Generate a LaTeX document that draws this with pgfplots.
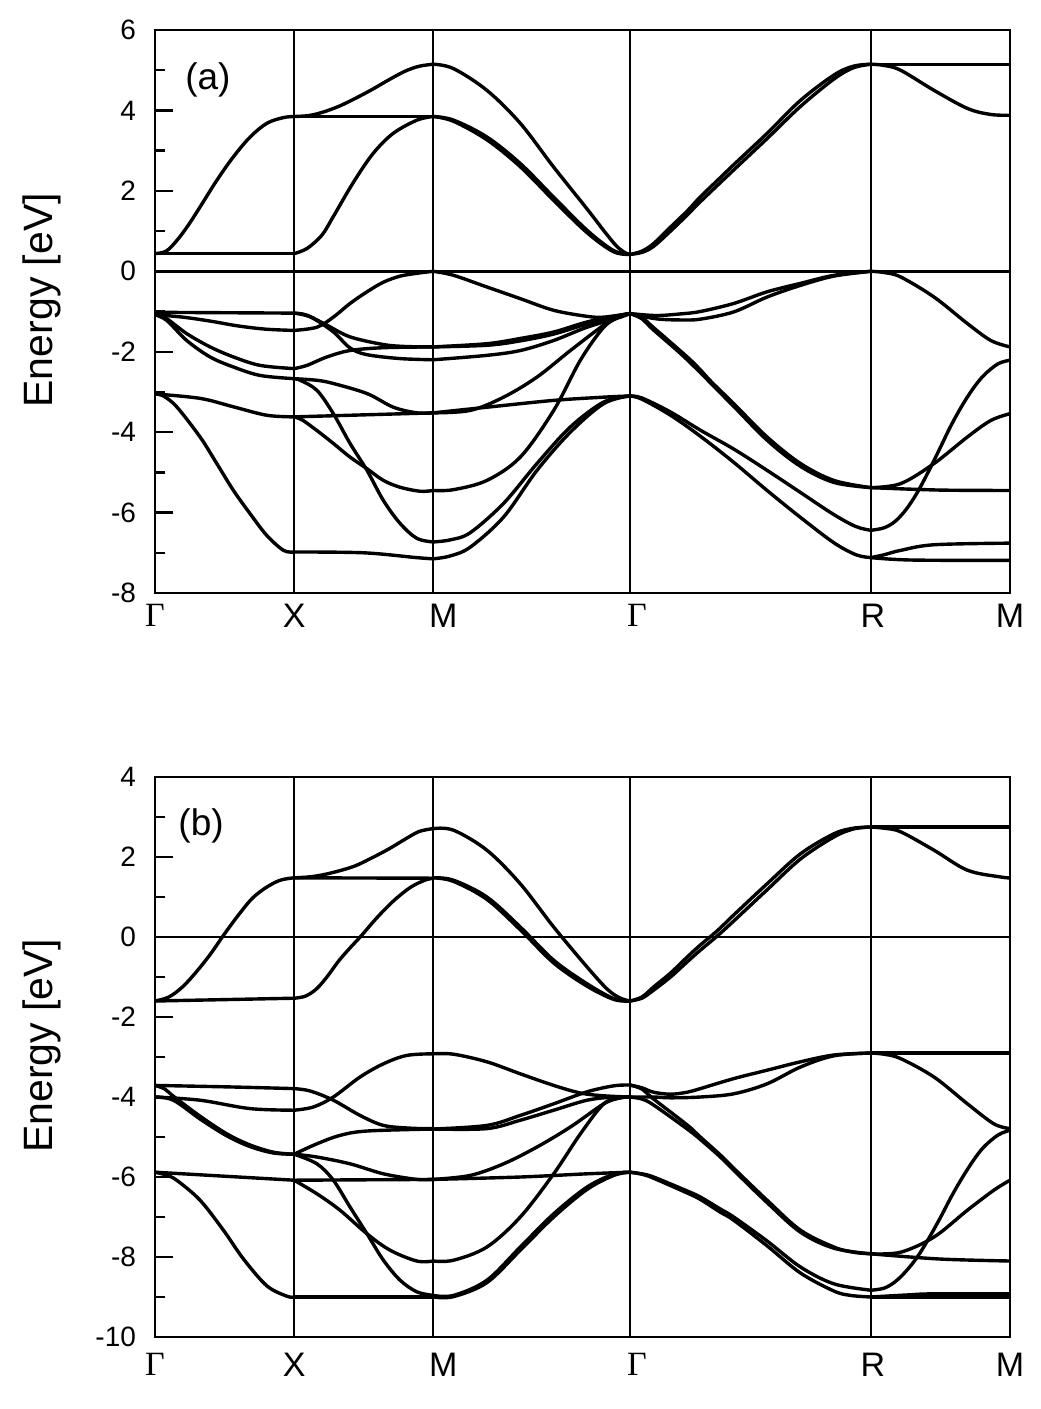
\documentclass[border=0pt]{standalone}
\usepackage{fontspec}
\setmainfont{Liberation Sans}
\newfontfamily\serifG{Liberation Serif}
\usepackage{pgfplots}
\pgfplotsset{compat=1.18}

\newcommand{\G}{{\serifG Γ}}

\pgfplotsset{
  bandaxis/.style={
    scale only axis, width=427.5pt,
    xmin=0, xmax=3.0731,
    xtick={0,0.5,1,1.7071,2.5731,3.0731},
    xticklabels={\G,X\hspace{5pt},\hspace{10pt}M,\hspace{7pt}\G,\hspace{2pt}R,M\hspace{3pt}},
    xmajorgrids, grid style={black, line width=1pt},
    xtick style={draw=none},
    ytick pos=left, tick align=inside,
    major tick length=9pt, minor tick length=5pt,
    minor y tick num=1,
    ytick style={black, line width=1.2pt},
    axis line style={line width=1.3pt},
    tick label style={font=\fontsize{14}{16}\selectfont},
    xticklabel style={font=\fontsize{17}{19}\selectfont},
    yticklabel style={xshift=-6pt},
    /pgf/number format/assume math mode=true,
    ylabel={Energy [eV]},
    ylabel style={font=\fontsize{20.5}{23}\selectfont, at={(axis description cs:-0.132,0.52)}, anchor=center},
  },
  band/.style={black, line width=1.7pt, smooth, tension=0.55, mark=none},
  zero/.style={black, mark=none},
}

\begin{document}
\begin{tikzpicture}
\path[use as bounding box] (0,0) rectangle (520pt,-704.5pt);

% ---------------- panel (a) ----------------
\begin{axis}[bandaxis, at={(77.5pt,-296.5pt)}, anchor=south west, height=281.5pt,
  ymin=-8, ymax=6, ytick={-8,-6,...,6}, xticklabel style={yshift=-2pt}]
\addplot[zero, line width=1.4pt] coordinates {(0,0) (3.0731,0)};
% conduction bands
\addplot[band] coordinates {(0,0.44) (0.5,0.44)};
\addplot[band] coordinates {(0,0.44) (0.04,0.5) (0.079,0.77) (0.12,1.15) (0.162,1.6) (0.222,2.26) (0.281,2.84) (0.342,3.34) (0.402,3.68) (0.46,3.82) (0.5,3.85)};
\addplot[band] coordinates {(0.5,3.85) (1,3.85)};
\addplot[band] coordinates {(0.5,3.85) (0.55,3.87) (0.6,3.95) (0.66,4.1) (0.72,4.3) (0.78,4.52) (0.84,4.76) (0.9,4.98) (0.95,5.1) (1,5.15)};
\addplot[band] coordinates {(0.5,0.44) (0.547,0.57) (0.6,0.9) (0.64,1.35) (0.712,2.2) (0.784,2.93) (0.856,3.43) (0.942,3.76) (1,3.85)};
\addplot[band] coordinates {(1,5.15) (1.073,5.04) (1.193,4.5) (1.313,3.68) (1.432,2.6) (1.553,1.55) (1.62,0.95) (1.66,0.62) (1.69,0.46) (1.7071,0.42)};
\addplot[band] coordinates {(1,3.85) (1.073,3.76) (1.193,3.34) (1.313,2.68) (1.432,1.85) (1.553,1.02) (1.647,0.52) (1.7071,0.42)};
\addplot[band] coordinates {(1,3.85) (1.073,3.73) (1.193,3.27) (1.313,2.6) (1.432,1.77) (1.553,0.96) (1.647,0.49) (1.7071,0.42)};
\addplot[band] coordinates {(1.7071,0.42) (1.75,0.5) (1.792,0.69) (1.853,1.1) (1.913,1.5) (1.96,1.85) (2.032,2.33) (2.08,2.65) (2.2,3.43) (2.32,4.25) (2.44,4.88) (2.51,5.1) (2.5731,5.15)};
\addplot[band] coordinates {(1.7071,0.42) (1.75,0.47) (1.792,0.62) (1.853,1.0) (1.913,1.4) (1.96,1.73) (2.08,2.52) (2.2,3.3) (2.32,4.1) (2.44,4.78) (2.51,5.06) (2.5731,5.15)};
\addplot[band] coordinates {(2.5731,5.15) (3.0731,5.15)};
\addplot[band] coordinates {(2.5731,5.15) (2.62,5.12) (2.68,5.0) (2.8,4.5) (2.92,4.05) (3.004,3.9) (3.0731,3.88)};
% valence bands, Gamma-X
\addplot[band] coordinates {(0,-1.02) (0.5,-1.04)};
\addplot[band] coordinates {(0,-1.08) (0.1,-1.14) (0.2,-1.24) (0.3,-1.36) (0.4,-1.44) (0.5,-1.47)};
\addplot[band] coordinates {(0,-1.08) (0.042,-1.18) (0.114,-1.55) (0.198,-1.88) (0.282,-2.13) (0.378,-2.34) (0.5,-2.42)};
\addplot[band] coordinates {(0,-1.08) (0.042,-1.22) (0.114,-1.72) (0.198,-2.13) (0.282,-2.38) (0.378,-2.59) (0.5,-2.67)};
\addplot[band] coordinates {(0,-3.05) (0.162,-3.16) (0.282,-3.37) (0.402,-3.58) (0.5,-3.62)};
\addplot[band] coordinates {(0,-3.05) (0.03,-3.1) (0.078,-3.37) (0.162,-4.12) (0.222,-4.78) (0.282,-5.45) (0.342,-6.03) (0.402,-6.57) (0.462,-6.94) (0.5,-6.98)};
% X-M
\addplot[band] coordinates {(0.5,-1.47) (0.582,-1.39) (0.641,-1.14) (0.701,-0.8) (0.762,-0.51) (0.821,-0.27) (0.881,-0.12) (0.941,-0.05) (1,0)};
\addplot[band] coordinates {(0.5,-1.04) (0.546,-1.09) (0.618,-1.34) (0.701,-1.63) (0.82,-1.82) (0.9,-1.87) (1,-1.88)};
\addplot[band] coordinates {(0.5,-1.04) (0.56,-1.14) (0.64,-1.5) (0.7,-1.9) (0.76,-2.07) (0.88,-2.17) (1,-2.2)};
\addplot[band] coordinates {(0.5,-2.42) (0.546,-2.34) (0.618,-2.13) (0.701,-1.97) (0.82,-1.9) (1,-1.88)};
\addplot[band] coordinates {(0.5,-2.67) (0.582,-2.71) (0.641,-2.79) (0.762,-3.04) (0.857,-3.38) (0.941,-3.52) (1,-3.52)};
\addplot[band] coordinates {(0.5,-2.67) (0.522,-2.71) (0.582,-2.96) (0.641,-3.54) (0.701,-4.28) (0.762,-4.95) (0.821,-5.7) (0.881,-6.27) (0.941,-6.64) (1,-6.73)};
\addplot[band] coordinates {(0.5,-3.62) (0.75,-3.57) (1,-3.52)};
\addplot[band] coordinates {(0.5,-3.62) (0.53,-3.7) (0.582,-3.96) (0.641,-4.28) (0.701,-4.62) (0.762,-4.91) (0.821,-5.2) (0.881,-5.37) (0.953,-5.47) (1,-5.45)};
\addplot[band] coordinates {(0.5,-6.98) (0.75,-7.0) (0.94,-7.12) (1,-7.15)};
% M-Gamma
\addplot[band] coordinates {(1,0) (1.073,-0.1) (1.193,-0.39) (1.313,-0.68) (1.433,-0.97) (1.553,-1.12) (1.613,-1.14) (1.7071,-1.05)};
\addplot[band] coordinates {(1,-1.88) (1.193,-1.8) (1.313,-1.67) (1.433,-1.51) (1.553,-1.26) (1.673,-1.09) (1.7071,-1.05)};
\addplot[band] coordinates {(1,-1.88) (1.193,-1.84) (1.313,-1.73) (1.433,-1.56) (1.553,-1.31) (1.673,-1.11) (1.7071,-1.05)};
\addplot[band] coordinates {(1,-2.2) (1.193,-2.09) (1.313,-1.97) (1.433,-1.72) (1.553,-1.39) (1.673,-1.14) (1.7071,-1.05)};
\addplot[band] coordinates {(1,-3.52) (1.133,-3.46) (1.253,-3.13) (1.373,-2.63) (1.493,-1.97) (1.613,-1.34) (1.673,-1.12) (1.7071,-1.05)};
\addplot[band] coordinates {(1,-3.52) (1.193,-3.38) (1.433,-3.21) (1.613,-3.13) (1.7071,-3.1)};
\addplot[band] coordinates {(1,-5.45) (1.073,-5.43) (1.193,-5.2) (1.313,-4.62) (1.433,-3.46) (1.529,-2.21) (1.613,-1.39) (1.673,-1.12) (1.7071,-1.05)};
\addplot[band] coordinates {(1,-6.73) (1.06,-6.68) (1.133,-6.5) (1.253,-5.77) (1.373,-4.78) (1.493,-3.87) (1.613,-3.25) (1.7071,-3.1)};
\addplot[band] coordinates {(1,-7.15) (1.06,-7.08) (1.133,-6.86) (1.253,-6.11) (1.373,-4.95) (1.493,-4.0) (1.613,-3.29) (1.7071,-3.1)};
% Gamma-R
\addplot[band] coordinates {(1.7071,-1.05) (1.8,-1.1) (1.888,-1.06) (1.96,-1.0) (2.08,-0.8) (2.2,-0.51) (2.32,-0.3) (2.44,-0.1) (2.5731,0)};
\addplot[band] coordinates {(1.7071,-1.05) (1.8,-1.18) (1.888,-1.21) (1.96,-1.19) (2.08,-1.01) (2.2,-0.64) (2.32,-0.35) (2.44,-0.12) (2.5731,0)};
\addplot[band] coordinates {(1.7071,-1.05) (1.75,-1.15) (1.792,-1.4) (1.913,-2.13) (1.96,-2.45) (2.0,-2.75) (2.08,-3.29) (2.2,-4.12) (2.32,-4.78) (2.44,-5.2) (2.5731,-5.38)};
\addplot[band] coordinates {(1.7071,-1.05) (1.75,-1.18) (1.792,-1.46) (1.913,-2.2) (2.08,-3.36) (2.2,-4.2) (2.32,-4.85) (2.44,-5.25) (2.5731,-5.38)};
\addplot[band] coordinates {(1.7071,-3.1) (1.75,-3.15) (1.853,-3.5) (1.96,-3.95) (2.08,-4.42) (2.2,-4.95) (2.32,-5.5) (2.44,-6.05) (2.52,-6.35) (2.5731,-6.44)};
\addplot[band] coordinates {(1.7071,-3.1) (1.75,-3.18) (1.853,-3.58) (1.96,-4.1) (2.08,-4.75) (2.2,-5.45) (2.32,-6.12) (2.44,-6.75) (2.52,-7.05) (2.5731,-7.12)};
% R-M
\addplot[band] coordinates {(2.5731,0) (2.62,-0.03) (2.68,-0.14) (2.8,-0.64) (2.92,-1.3) (3.004,-1.72) (3.0731,-1.88)};
\addplot[band] coordinates {(2.5731,-6.44) (2.62,-6.38) (2.66,-6.22) (2.7,-5.92) (2.74,-5.5) (2.78,-4.98) (2.82,-4.42) (2.86,-3.85) (2.9,-3.35) (2.94,-2.92) (2.98,-2.58) (3.03,-2.3) (3.0731,-2.21)};
\addplot[band] coordinates {(2.5731,-5.38) (2.68,-5.28) (2.8,-4.78) (2.92,-4.12) (3.004,-3.71) (3.0731,-3.54)};
\addplot[band] coordinates {(2.5731,-5.38) (2.82,-5.44) (3.0731,-5.45)};
\addplot[band] coordinates {(2.5731,-7.12) (2.62,-7.05) (2.68,-6.94) (2.8,-6.8) (3.0731,-6.76)};
\addplot[band] coordinates {(2.5731,-7.12) (2.72,-7.18) (3.0731,-7.19)};
\node[anchor=north west, inner sep=0pt, font=\fontsize{18.5}{20}\selectfont] at (rel axis cs:0.035,0.943) {(a)};
\end{axis}

% ---------------- panel (b) ----------------
\begin{axis}[bandaxis, at={(77.5pt,-668.5pt)}, anchor=south west, height=280pt,
  ymin=-10, ymax=4, ytick={-10,-8,...,4}, xticklabel style={yshift=-4.5pt}]
\addplot[zero, line width=1pt] coordinates {(0,0) (3.0731,0)};
% conduction bands
\addplot[band] coordinates {(0,-1.6) (0.5,-1.53)};
\addplot[band] coordinates {(0,-1.6) (0.05,-1.5) (0.1,-1.24) (0.15,-0.86) (0.2,-0.42) (0.25,0.08) (0.3,0.55) (0.35,0.97) (0.4,1.24) (0.45,1.42) (0.5,1.48)};
\addplot[band] coordinates {(0.5,1.48) (1,1.47)};
\addplot[band] coordinates {(0.5,1.48) (0.55,1.5) (0.6,1.55) (0.66,1.65) (0.72,1.78) (0.78,1.98) (0.84,2.2) (0.9,2.45) (0.95,2.64) (1,2.71)};
\addplot[band] coordinates {(0.5,-1.53) (0.54,-1.48) (0.58,-1.3) (0.62,-0.98) (0.66,-0.6) (0.7,-0.28) (0.74,0.02) (0.8,0.5) (0.86,0.92) (0.92,1.25) (0.97,1.42) (1,1.47)};
\addplot[band] coordinates {(1,2.71) (1.073,2.67) (1.193,2.17) (1.313,1.33) (1.433,0.25) (1.553,-0.75) (1.625,-1.3) (1.67,-1.52) (1.7071,-1.6)};
\addplot[band] coordinates {(1,1.48) (1.073,1.42) (1.193,1.0) (1.313,0.25) (1.433,-0.58) (1.553,-1.17) (1.649,-1.54) (1.7071,-1.6)};
\addplot[band] coordinates {(1,1.48) (1.073,1.39) (1.193,0.94) (1.313,0.18) (1.433,-0.65) (1.553,-1.23) (1.649,-1.56) (1.7071,-1.6)};
\addplot[band] coordinates {(1.7071,-1.6) (1.75,-1.5) (1.792,-1.25) (1.853,-0.9) (1.913,-0.5) (1.96,-0.2) (2.02,0.15) (2.08,0.55) (2.2,1.33) (2.32,2.08) (2.44,2.58) (2.51,2.72) (2.5731,2.75)};
\addplot[band] coordinates {(1.7071,-1.6) (1.75,-1.53) (1.792,-1.33) (1.853,-1.0) (1.913,-0.62) (1.96,-0.33) (2.02,0.02) (2.08,0.4) (2.2,1.18) (2.32,1.95) (2.44,2.5) (2.51,2.7) (2.5731,2.75)};
\addplot[band] coordinates {(2.5731,2.75) (3.0731,2.75)};
\addplot[band] coordinates {(2.5731,2.75) (2.62,2.72) (2.68,2.63) (2.8,2.17) (2.92,1.67) (3.04,1.5) (3.0731,1.48)};
% valence bands, Gamma-X
\addplot[band] coordinates {(0,-3.71) (0.282,-3.75) (0.5,-3.79)};
\addplot[band] coordinates {(0,-4.0) (0.162,-4.08) (0.342,-4.29) (0.5,-4.33)};
\addplot[band] coordinates {(0,-3.71) (0.035,-3.8) (0.066,-3.98) (0.162,-4.48) (0.258,-4.92) (0.342,-5.2) (0.426,-5.38) (0.5,-5.43)};
\addplot[band] coordinates {(0,-4.0) (0.066,-4.08) (0.162,-4.55) (0.258,-4.97) (0.342,-5.24) (0.426,-5.4) (0.5,-5.43)};
\addplot[band] coordinates {(0,-5.88) (0.25,-5.98) (0.5,-6.08)};
\addplot[band] coordinates {(0,-5.88) (0.04,-5.95) (0.078,-6.08) (0.162,-6.58) (0.246,-7.33) (0.318,-8.05) (0.402,-8.72) (0.474,-8.98) (0.5,-9.0)};
% X-M
\addplot[band] coordinates {(0.5,-4.33) (0.569,-4.25) (0.641,-4.0) (0.737,-3.5) (0.821,-3.17) (0.905,-2.96) (1,-2.92)};
\addplot[band] coordinates {(0.5,-3.79) (0.558,-3.85) (0.641,-4.08) (0.737,-4.46) (0.821,-4.71) (0.92,-4.78) (1,-4.79)};
\addplot[band] coordinates {(0.5,-5.43) (0.582,-5.17) (0.665,-4.96) (0.762,-4.85) (1,-4.8)};
\addplot[band] coordinates {(0.5,-5.43) (0.582,-5.5) (0.701,-5.67) (0.821,-5.92) (0.941,-6.06) (1,-6.06)};
\addplot[band] coordinates {(0.5,-5.43) (0.582,-5.67) (0.641,-6.08) (0.701,-6.75) (0.762,-7.42) (0.821,-8.08) (0.881,-8.58) (0.941,-8.87) (1,-8.96)};
\addplot[band] coordinates {(0.5,-6.08) (1,-6.06)};
\addplot[band] coordinates {(0.5,-6.08) (0.582,-6.42) (0.665,-6.83) (0.762,-7.42) (0.845,-7.83) (0.941,-8.1) (1,-8.1)};
\addplot[band] coordinates {(0.5,-9.0) (1,-9.0)};
% M-Gamma
\addplot[band] coordinates {(1,-2.92) (1.073,-2.93) (1.193,-3.12) (1.313,-3.42) (1.433,-3.71) (1.529,-3.9) (1.613,-3.97) (1.7071,-4.0)};
\addplot[band] coordinates {(1,-4.8) (1.193,-4.71) (1.313,-4.46) (1.433,-4.17) (1.553,-3.87) (1.649,-3.72) (1.7071,-3.7)};
\addplot[band] coordinates {(1,-4.8) (1.193,-4.79) (1.313,-4.58) (1.433,-4.33) (1.553,-4.08) (1.649,-4.0) (1.7071,-4.0)};
\addplot[band] coordinates {(1,-6.06) (1.133,-5.96) (1.253,-5.67) (1.373,-5.25) (1.493,-4.75) (1.613,-4.17) (1.673,-4.02) (1.7071,-4.0)};
\addplot[band] coordinates {(1,-6.06) (1.313,-6.0) (1.553,-5.92) (1.7071,-5.88)};
\addplot[band] coordinates {(1,-8.1) (1.073,-8.08) (1.193,-7.75) (1.313,-7.0) (1.433,-5.92) (1.529,-4.92) (1.613,-4.17) (1.673,-4.02) (1.7071,-4.0)};
\addplot[band] coordinates {(1,-8.96) (1.073,-8.96) (1.193,-8.58) (1.313,-7.75) (1.433,-6.92) (1.553,-6.25) (1.649,-5.93) (1.7071,-5.88)};
\addplot[band] coordinates {(1,-9.0) (1.073,-8.99) (1.193,-8.64) (1.313,-7.83) (1.433,-7.0) (1.553,-6.31) (1.649,-5.96) (1.7071,-5.88)};
% Gamma-R
\addplot[band] coordinates {(1.7071,-3.7) (1.75,-3.77) (1.792,-3.88) (1.853,-3.93) (1.913,-3.88) (1.96,-3.79) (2.08,-3.54) (2.2,-3.33) (2.32,-3.12) (2.44,-2.95) (2.5731,-2.9)};
\addplot[band] coordinates {(1.7071,-4.0) (1.792,-4.0) (1.853,-4.02) (1.96,-4.0) (2.08,-3.92) (2.2,-3.67) (2.32,-3.25) (2.44,-2.97) (2.5731,-2.9)};
\addplot[band] coordinates {(1.7071,-3.7) (1.75,-3.8) (1.792,-4.05) (1.913,-4.7) (1.96,-5.0) (2.032,-5.45) (2.08,-5.78) (2.2,-6.58) (2.32,-7.33) (2.44,-7.75) (2.51,-7.88) (2.5731,-7.92)};
\addplot[band] coordinates {(1.7071,-4.0) (1.75,-4.05) (1.792,-4.2) (1.913,-4.8) (1.96,-5.06) (2.032,-5.5) (2.08,-5.83) (2.2,-6.64) (2.32,-7.38) (2.44,-7.78) (2.5731,-7.92)};
\addplot[band] coordinates {(1.7071,-5.88) (1.75,-5.92) (1.792,-6.0) (1.913,-6.35) (1.96,-6.5) (2.032,-6.8) (2.08,-7.0) (2.2,-7.6) (2.32,-8.25) (2.44,-8.67) (2.5731,-8.83)};
\addplot[band] coordinates {(1.7071,-5.88) (1.75,-5.93) (1.792,-6.03) (1.913,-6.4) (1.96,-6.56) (2.032,-6.88) (2.08,-7.08) (2.2,-7.72) (2.32,-8.4) (2.44,-8.85) (2.5,-8.96) (2.5731,-9.0)};
% R-M
\addplot[band] coordinates {(2.5731,-2.9) (3.0731,-2.9)};
\addplot[band] coordinates {(2.5731,-2.9) (2.62,-2.93) (2.68,-3.04) (2.8,-3.5) (2.92,-4.17) (3.015,-4.67) (3.0731,-4.79)};
\addplot[band] coordinates {(2.5731,-8.83) (2.62,-8.78) (2.66,-8.62) (2.7,-8.35) (2.74,-8.0) (2.78,-7.55) (2.824,-7.0) (2.86,-6.52) (2.896,-6.08) (2.94,-5.6) (2.979,-5.25) (3.03,-4.95) (3.0731,-4.83)};
\addplot[band] coordinates {(2.5731,-7.92) (2.68,-7.88) (2.8,-7.5) (2.92,-6.83) (3.015,-6.33) (3.0731,-6.08)};
\addplot[band] coordinates {(2.5731,-7.92) (2.82,-8.05) (3.0731,-8.1)};
\addplot[band] coordinates {(2.5731,-9.0) (3.0731,-9.0)};
\addplot[band] coordinates {(2.5731,-9.0) (2.7,-8.95) (2.8,-8.92) (3.0731,-8.92)};
\node[anchor=north west, inner sep=0pt, font=\fontsize{18.5}{20}\selectfont] at (rel axis cs:0.027,0.945) {(b)};
\end{axis}
\end{tikzpicture}
\end{document}
